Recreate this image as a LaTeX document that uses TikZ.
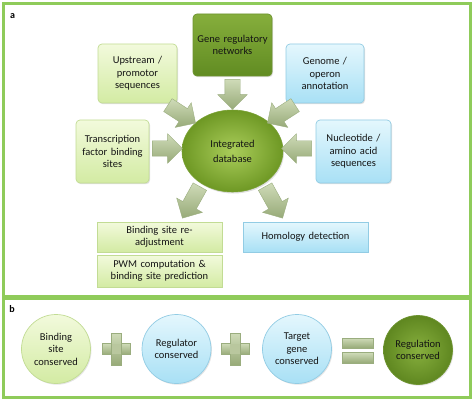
\documentclass[tikz,border=0pt]{standalone}
\usepackage{fontspec}
\setmainfont{Carlito}
\usetikzlibrary{shapes.arrows,shapes.geometric,shadows,calc}
\definecolor{frameg}{HTML}{8FCB5A}
\definecolor{txt}{HTML}{141414}
\definecolor{lgtop}{HTML}{F2FADC}
\definecolor{lgbot}{HTML}{D3EBA3}
\definecolor{lgdraw}{HTML}{C2DC94}
\definecolor{lbtop}{HTML}{E4F7FD}
\definecolor{lbbot}{HTML}{A8E0F5}
\definecolor{lbdraw}{HTML}{92CCE4}
\definecolor{dgtop}{HTML}{86AE3C}
\definecolor{dgbot}{HTML}{618C22}
\definecolor{dgdraw}{HTML}{6E9430}
\definecolor{artop}{HTML}{CFDBB8}
\definecolor{arbot}{HTML}{97AA78}
\definecolor{ardraw}{HTML}{9AAD7E}
\tikzset{
  box/.style={rounded corners=4pt, align=center, text=txt, inner sep=1pt,
    font=\fontsize{10.5}{12.5}\selectfont, line width=0.7pt,
    drop shadow={opacity=0.25, shadow xshift=1pt, shadow yshift=-1.2pt}},
  lgbox/.style={box, top color=lgtop, bottom color=lgbot, draw=lgdraw},
  lbbox/.style={box, top color=lbtop, bottom color=lbbot, draw=lbdraw},
  dgbox/.style={box, top color=dgtop, bottom color=dgbot, draw=dgdraw},
  flat/.style={rounded corners=0pt},
  blockarrow/.style={single arrow, draw=ardraw, line width=0.4pt,
    shading=axis, top color=artop, bottom color=arbot,
    single arrow head extend=7pt, single arrow tip angle=90,
    inner xsep=0pt, inner ysep=7.5pt},
  circ/.style={circle, align=center, text=txt, minimum size=69pt, inner sep=0pt,
    font=\fontsize{10.5}{12.5}\selectfont, line width=0.7pt,
    drop shadow={opacity=0.2, shadow xshift=1pt, shadow yshift=-1.2pt}},
  bar/.style={draw=ardraw, line width=0.3pt, top color=artop, bottom color=arbot},
  panel/.style={draw=frameg, line width=2.6pt},
  lbl/.style={font=\fontsize{10}{12}\selectfont\bfseries, text=black, inner sep=0pt}
}
\begin{document}
\begin{tikzpicture}[x=1pt,y=-1pt]
\useasboundingbox (0,0) rectangle (474,401);
\fill[white] (0,0) rectangle (474,401);
% panels
\draw[panel] (3.5,3.5) rectangle (470.5,296);
\draw[panel] (3.5,298.5) rectangle (470.5,397.5);
\node[lbl] (la) at (12.5,16) {a};
\node[lbl] (lb) at (12,309) {b};

% panel a nodes
\node[dgbox, minimum width=79pt, minimum height=62pt, text width=77pt] (grn) at (232.5,45) {Gene regulatory\\networks};
\node[lgbox, minimum width=79pt, minimum height=59pt, text width=77pt] (ups) at (137.5,73.5) {Upstream /\\promotor\\sequences};
\node[lbbox, minimum width=78pt, minimum height=59pt, text width=76pt] (gen) at (325,73.5) {Genome /\\operon\\annotation};
\node[lgbox, minimum width=73pt, minimum height=63pt, text width=71pt] (tfb) at (112.5,151.5) {Transcription\\factor binding\\sites};
\node[lbbox, minimum width=75pt, minimum height=63pt, text width=73pt] (nuc) at (353.5,151.5) {Nucleotide /\\amino acid\\sequences};
\node[ellipse, minimum width=101pt, minimum height=82pt, inner sep=0pt, align=center, text=txt,
  font=\fontsize{10.5}{15}\selectfont, shading=radial, inner color={rgb,255:red,170;green,205;blue,90},
  outer color={rgb,255:red,110;green,152;blue,36}, draw={rgb,255:red,120;green,160;blue,50}, line width=0.6pt,
  drop shadow={opacity=0.25, shadow xshift=1pt, shadow yshift=-1.5pt}] (db) at (232.5,151) {Integrated\\database};
\node[lgbox, flat, minimum width=125pt, minimum height=30pt, text width=123pt] (bsr) at (159.5,237) {Binding site re-\\adjustment};
\node[lgbox, flat, minimum width=125pt, minimum height=32pt, text width=123pt] (pwm) at (159.5,271) {PWM computation \&\\binding site prediction};
\node[lbbox, flat, minimum width=125pt, minimum height=30pt, text width=123pt] (hom) at (305.5,237) {Homology detection};

% block arrows
\node[blockarrow, minimum height=30pt, rotate=-90] (a1) at (232.5,90.5) {};
\node[blockarrow, minimum height=33pt, rotate=-33] (a2) at (178.5,112) {};
\node[blockarrow, minimum height=33pt, rotate=-147] (a3) at (284.5,112) {};
\node[blockarrow, minimum height=30pt, rotate=0] (a4) at (163.5,148.5) {};
\node[blockarrow, minimum height=30pt, rotate=180] (a5) at (300.5,148.5) {};
\node[blockarrow, minimum height=36pt, rotate=-119] (a6) at (193,199) {};
\node[blockarrow, minimum height=36pt, rotate=-61] (a7) at (272,199) {};

% panel b
\node[circ, top color=lgtop, bottom color=lgbot, draw=lgdraw] (c1) at (56,349) {Binding\\site\\conserved};
\node[circ, top color=lbtop, bottom color=lbbot, draw=lbdraw] (c2) at (176.5,349) {Regulator\\conserved};
\node[circ, top color=lbtop, bottom color=lbbot, draw=lbdraw] (c3) at (297,349) {Target\\gene\\conserved};
\node[circ, shading=radial, inner color={rgb,255:red,135;green,175;blue,62}, outer color={rgb,255:red,95;green,135;blue,32}, draw=dgdraw] (c4) at (418,350) {Regulation\\conserved};

% plus signs and equals
\coordinate (p1) at (116.5,349);
\coordinate (p2) at (235,349);
\foreach \p in {p1,p2}{
  \path[bar] ($(\p)+(-14,-5.5)$) rectangle ($(\p)+(14,5.5)$);
  \path[bar] ($(\p)+(-5,-16)$) rectangle ($(\p)+(5,16)$);
  \fill[artop!60!arbot] ($(\p)+(-4.8,-5.3)$) rectangle ($(\p)+(4.8,5.3)$);
}
\coordinate (eq) at (357.5,350.5);
\path[bar] ($(eq)+(-15.5,-12.5)$) rectangle ($(eq)+(15.5,-2.5)$);
\path[bar] ($(eq)+(-15.5,2)$) rectangle ($(eq)+(15.5,12.5)$);
\end{tikzpicture}
\end{document}
